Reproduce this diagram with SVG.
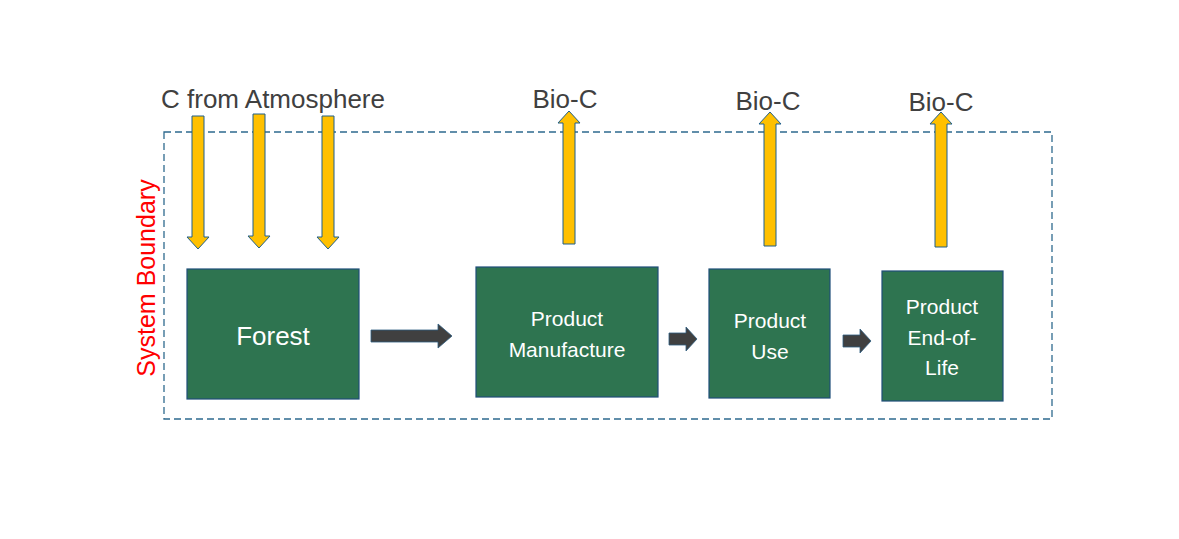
<svg xmlns="http://www.w3.org/2000/svg" width="1179" height="539" viewBox="0 0 1179 539">
<style>
.box{fill:#2e7450;stroke:#1f4e79;stroke-width:1.2}
.bt{fill:#fff;font-family:"Liberation Sans",Arial,sans-serif;text-anchor:middle}
.lbl{fill:#404040;font-family:"Liberation Sans",Arial,sans-serif;font-size:26px;text-anchor:middle}
.ya{fill:#ffc000;stroke:#1f5f8b;stroke-width:1}
.ga{fill:#404040;stroke:#2e5d80;stroke-width:0.8}
</style>
<rect width="1179" height="539" fill="#fff"/>
<rect x="164" y="132" width="888" height="287" fill="none" stroke="#2e6a8e" stroke-width="1.3" stroke-dasharray="7,4"/>
<text transform="translate(155,278) rotate(-90)" fill="#ff0000" font-family="Liberation Sans,Arial,sans-serif" font-size="25" text-anchor="middle">System Boundary</text>
<text class="lbl" x="273" y="108">C from Atmosphere</text>
<text class="lbl" x="565" y="108">Bio-C</text>
<text class="lbl" x="768" y="110">Bio-C</text>
<text class="lbl" x="941" y="111">Bio-C</text>
<g id="connectors">
<polygon class="ya" points="192,116 204,116 204,237 209,237 198,249 187,237 192,237"/>
<polygon class="ya" points="253,114 265,114 265,236 270,236 259,248 248,236 253,236"/>
<polygon class="ya" points="322,116 334,116 334,237 339,237 328,249 317,237 322,237"/>
<polygon class="ya" points="563,244 575,244 575,123 580,123 569,111 558,123 563,123"/>
<polygon class="ya" points="764,246 776,246 776,124 781,124 770,112 759,124 764,124"/>
<polygon class="ya" points="935,247 947,247 947,124 952,124 941,112 930,124 935,124"/>
<polygon class="ga" points="371,330 438,330 438,324 452,336 438,348 438,342 371,342"/>
<polygon class="ga" points="669,333 686,333 686,327 697,339 686,351 686,345 669,345"/>
<polygon class="ga" points="843,335 860,335 860,329 871,341 860,353 860,347 843,347"/>
</g>
<g id="forest"><rect class="box" x="187" y="269" width="172" height="130"/><text class="bt" x="273" y="345" font-size="26">Forest</text></g>
<g id="manufacture"><rect class="box" x="476" y="267" width="182" height="130"/><text class="bt" x="567" y="326" font-size="21">Product</text><text class="bt" x="567" y="357" font-size="21">Manufacture</text></g>
<g id="use"><rect class="box" x="709" y="269" width="121" height="129"/><text class="bt" x="770" y="328" font-size="21">Product</text><text class="bt" x="770" y="359" font-size="21">Use</text></g>
<g id="eol"><rect class="box" x="882" y="271" width="121" height="130"/><text class="bt" x="942" y="314" font-size="21">Product</text><text class="bt" x="942" y="345" font-size="21">End-of-</text><text class="bt" x="942" y="375" font-size="21">Life</text></g>
</svg>
